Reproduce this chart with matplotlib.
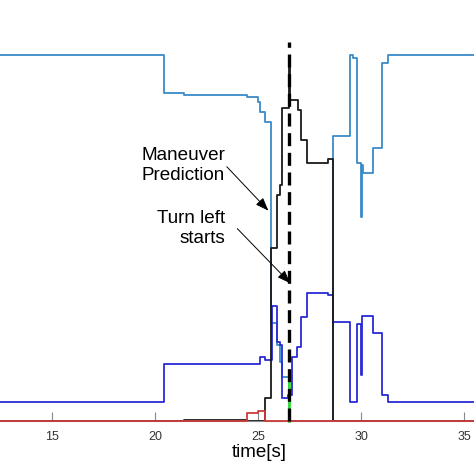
import matplotlib
matplotlib.use("Agg")
import matplotlib.pyplot as plt

plt.rcParams["font.family"] = ["Liberation Sans", "DejaVu Sans"]

# step series, values (steps-post)
t_light = [12.4, 20.4, 21.4, 24.44, 24.97, 25.1, 25.33, 25.6, 25.89, 26.05, 26.17, 26.5,
           28.62, 29.43, 29.61, 29.78, 29.97, 30.01, 30.1, 30.58, 31.02, 31.31, 35.6]
v_light = [1.0, 0.896, 0.891, 0.885, 0.871, 0.844, 0.817, 0.267, 0.207, 0.161, 0.121, 0.0,
           0.778, 0.999, 0.99, 0.703, 0.557, 0.70, 0.676, 0.744, 0.978, 0.999, 0.999]

t_dark = [12.4, 20.4, 25.1, 25.33, 25.65, 25.89, 26.05, 26.13, 26.46, 26.62, 26.89, 27.06,
          27.38, 28.40, 28.64, 29.43, 29.78, 29.97, 30.01, 30.58, 30.99, 31.31, 35.6]
v_dark = [0.051, 0.155, 0.175, 0.166, 0.314, 0.216, 0.207, 0.062, 0.071, 0.175, 0.201, 0.285,
          0.348, 0.344, 0.271, 0.053, 0.264, 0.126, 0.286, 0.239, 0.071, 0.051, 0.051]

t_black = [12.4, 21.4, 24.44, 25.33, 25.63, 25.89, 26.05, 26.17, 26.47, 26.56, 26.94, 27.06,
           27.35, 28.40, 28.62, 35.6]
v_black = [0.0, 0.003, 0.0, 0.062, 0.471, 0.617, 0.644, 0.853, 0.985, 0.876, 0.849, 0.767,
           0.703, 0.714, 0.0, 0.0]

t_red = [12.4, 24.44, 25.0, 25.33, 35.6]
v_red = [0.0, 0.021, 0.027, 0.0, 0.0]

t_green = [26.5, 26.5]
v_green = [0.0, 0.121]

t_event = 26.5
event_top = 1.034

xticks = [15, 20, 25, 30, 35]

fig = plt.figure(figsize=(4.74, 4.74), dpi=100)
ax = fig.add_axes([0.0, 53 / 474, 1.0, 421 / 474])

lw = 1.3
ax.plot(t_light, v_light, drawstyle="steps-post", color="#3a8bc8", lw=lw, clip_on=False)
ax.plot(t_dark, v_dark, drawstyle="steps-post", color="#2a2ad6", lw=lw, clip_on=False)
ax.plot(t_black, v_black, drawstyle="steps-post", color="#1a1a1a", lw=lw, clip_on=False)
ax.plot(t_green, v_green, color="#33dd33", lw=2.0, clip_on=False)
ax.plot(t_red, v_red, drawstyle="steps-post", color="#cc3b3b", lw=lw, clip_on=False, zorder=3)
ax.plot([t_event, t_event], [0, event_top], color="black", lw=2.4,
        linestyle=(0, (3.9, 2.0)), clip_on=False, zorder=4)

ax.set_xticks(xticks)
ax.set_xlim(12.46, 35.47)
ax.set_ylim(0, 1.149)

for s in ["left", "right", "top"]:
    ax.spines[s].set_visible(False)
ax.spines["bottom"].set_color("#888888")
ax.yaxis.set_visible(False)

ax.tick_params(axis="x", direction="in", length=6.5, width=0.8, color="#888888",
               labelsize=9, labelcolor="#333333", pad=7)
ax.set_xlabel("time[s]", fontsize=13.5)
ax.xaxis.set_label_coords(0.547, -0.055)

ax.text(23.38, 0.697, "Maneuver\nPrediction", fontsize=13.6, ha="right", va="center",
        multialignment="right", linespacing=1.22)
ax.text(23.4, 0.526, "Turn left\nstarts", fontsize=13.6, ha="right", va="center",
        multialignment="right", linespacing=1.22)

arrow = dict(arrowstyle="-|>,head_length=0.8,head_width=0.3", color="black", lw=0.7,
             shrinkA=0, shrinkB=0, mutation_scale=10)
ax.annotate("", xy=(25.49, 0.574), xytext=(23.47, 0.694), arrowprops=arrow)
ax.annotate("", xy=(26.55, 0.376), xytext=(23.98, 0.525), arrowprops=arrow)

fig.savefig("out.png", dpi=100)
